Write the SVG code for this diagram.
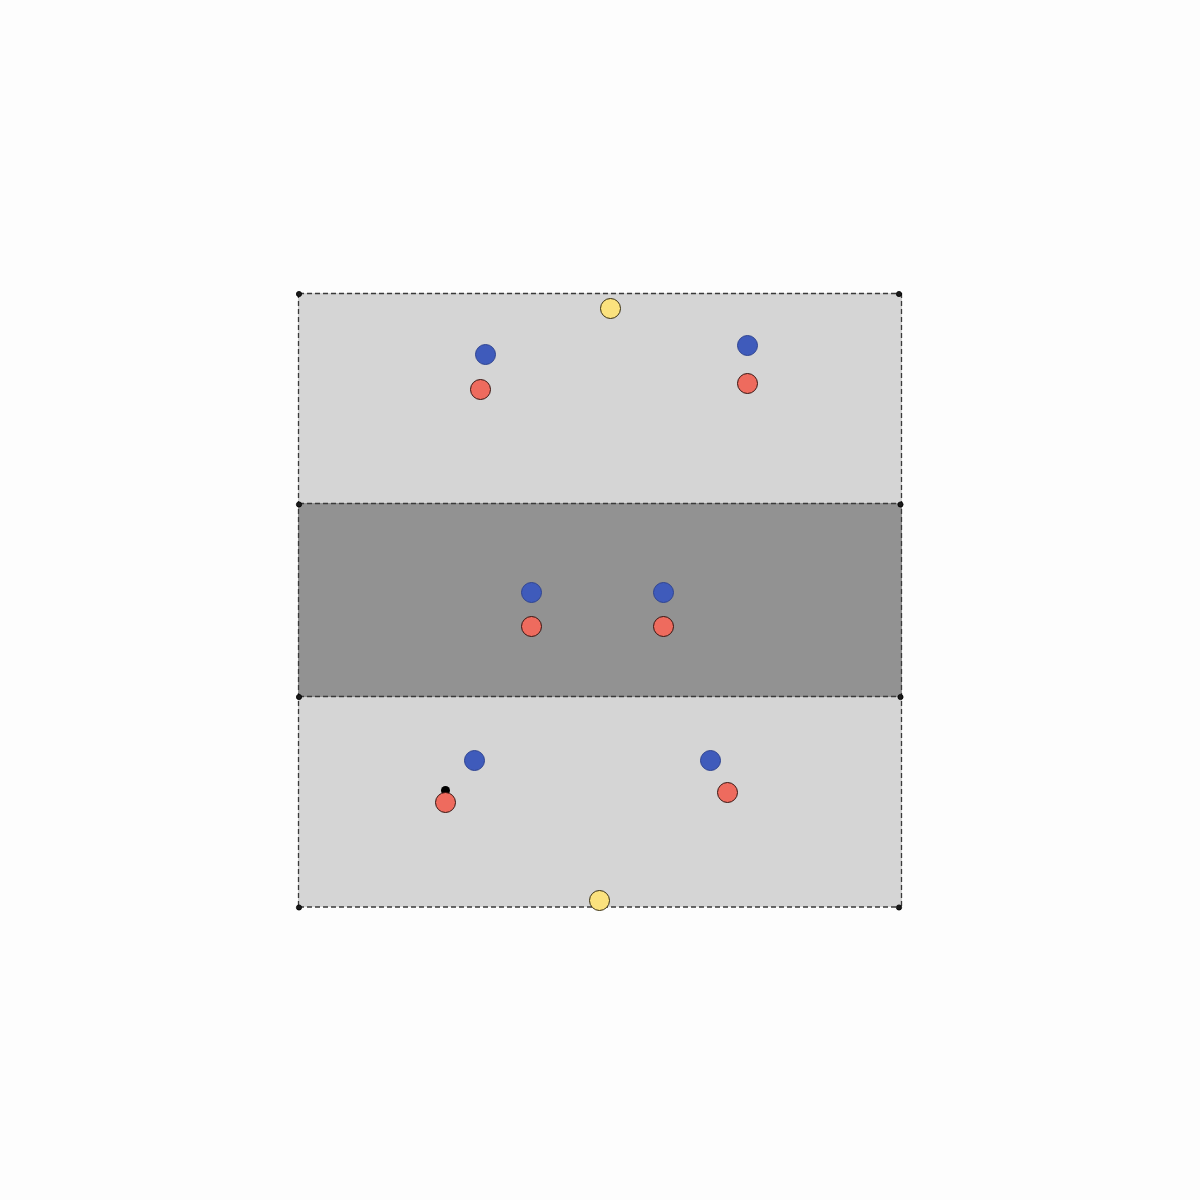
<svg xmlns="http://www.w3.org/2000/svg" width="1200" height="1200" viewBox="0 0 1200 1200">
<style>
.light{fill:#d5d5d5}
.dark{fill:#929292}
.dash{stroke:#3a3a3a;stroke-width:1.3;stroke-dasharray:5 3;fill:none}
.corner{fill:#1a1a1a;stroke:#000;stroke-width:0.8}
.blue{fill:#3f5bbb;stroke:#2f4491;stroke-width:1}
.red{fill:#ee6b5e;stroke:#3a1410;stroke-width:1}
.yellow{fill:#fbe27e;stroke:#3a3010;stroke-width:1}
</style>
<rect width="1200" height="1200" fill="#fdfdfd"/>
<g id="zones">
<rect id="zone-top" class="light" x="298" y="293" width="604" height="210"/>
<rect id="zone-middle" class="dark" x="298" y="503" width="604" height="194"/>
<rect id="zone-bottom" class="light" x="298" y="697" width="604" height="210"/>
</g>
<g id="lines">
<line class="dash" x1="299" y1="293.5" x2="899" y2="293.5"/>
<line class="dash" x1="299" y1="503.5" x2="901" y2="503.5"/>
<line class="dash" x1="299" y1="696.5" x2="901" y2="696.5"/>
<line class="dash" x1="299" y1="907" x2="899" y2="907"/>
<line class="dash" x1="298.5" y1="293" x2="298.5" y2="907"/>
<line class="dash" x1="901.5" y1="293" x2="901.5" y2="907"/>
</g>
<g id="corners">
<circle class="corner" cx="299" cy="294" r="2.6"/>
<circle class="corner" cx="899" cy="294" r="2.6"/>
<circle class="corner" cx="299" cy="504.5" r="2.6"/>
<circle class="corner" cx="900.5" cy="504.5" r="2.6"/>
<circle class="corner" cx="299" cy="697" r="2.6"/>
<circle class="corner" cx="900.5" cy="697" r="2.6"/>
<circle class="corner" cx="299" cy="907.5" r="2.6"/>
<circle class="corner" cx="899" cy="907.5" r="2.6"/>
</g>
<g id="yellow-players">
<circle id="y1" class="yellow" cx="610.5" cy="308.5" r="10"/>
<circle id="y2" class="yellow" cx="599.5" cy="900.5" r="10"/>
</g>
<g id="blue-players">
<circle id="b1" class="blue" cx="485.5" cy="354.5" r="10"/>
<circle id="b2" class="blue" cx="747.5" cy="345.5" r="10"/>
<circle id="b3" class="blue" cx="531.5" cy="592.5" r="10"/>
<circle id="b4" class="blue" cx="663.5" cy="592.5" r="10"/>
<circle id="b5" class="blue" cx="474.5" cy="760.5" r="10"/>
<circle id="b6" class="blue" cx="710.5" cy="760.5" r="10"/>
</g>
<g id="ball">
<circle cx="445.5" cy="790.5" r="4.5" fill="#000"/>
</g>
<g id="red-players">
<circle id="r1" class="red" cx="480.5" cy="389.5" r="10"/>
<circle id="r2" class="red" cx="747.5" cy="383.5" r="10"/>
<circle id="r3" class="red" cx="531.5" cy="626.5" r="10"/>
<circle id="r4" class="red" cx="663.5" cy="626.5" r="10"/>
<circle id="r5" class="red" cx="445.5" cy="802.5" r="10"/>
<circle id="r6" class="red" cx="727.5" cy="792.5" r="10"/>
</g>
</svg>
